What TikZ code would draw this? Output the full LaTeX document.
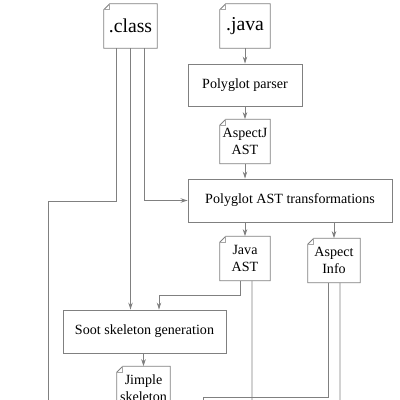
\documentclass[tikz,border=0pt]{standalone}
\usepackage{fontspec}
\setmainfont{Liberation Serif}
\usetikzlibrary{arrows.meta}

\tikzset{
  proc/.style={draw=gray, line width=0.6pt, minimum height=1.075cm, align=center, inner sep=2pt},
  doc/.style={minimum width=1.25cm, minimum height=1.1cm, align=center, inner sep=1pt,
    append after command={\pgfextra{
      \draw[gray, line width=0.6pt] (\tikzlastnode.south west) -- (\tikzlastnode.south east)
        -- (\tikzlastnode.north east) -- ([xshift=4.3pt]\tikzlastnode.north west)
        -- ([yshift=-4.3pt]\tikzlastnode.north west) -- cycle;
      \draw[gray!70, line width=0.4pt] ([xshift=4.3pt]\tikzlastnode.north west)
        -- ([shift={(4.3pt,-4.3pt)}]\tikzlastnode.north west)
        -- ([yshift=-4.3pt]\tikzlastnode.north west);
    }}},
  big/.style={font=\fontsize{14}{16}\selectfont},
  wire/.style={gray, line width=0.6pt},
  link/.style={wire, -{Stealth[length=5pt, width=3.2pt]}}
}

\begin{document}
\begin{tikzpicture}[x=0.025cm, y=-0.025cm]
    \useasboundingbox (0,0) rectangle (400,400);
    \clip (0,0) rectangle (400,400);

    % inputs and front end
    \node[doc, big, minimum width=1.325cm] (class) at (130.5,26) {.class};
    \node[doc, big] (java) at (245,26) {.java};
    \node[proc, minimum width=2.85cm, minimum height=1.05cm] (parser) at (245,85) {Polyglot parser};
    \node[doc] (ajast) at (245,141.5) {AspectJ\\AST};
    \node[proc, minimum width=5.1cm] (trans) at (290,200.5) {Polyglot AST transformations};
    \node[doc] (javaast) at (245,258.5) {Java\\AST};
    \node[doc, minimum width=1.3cm] (info) at (334,260.5) {Aspect\\Info};
    \node[proc, minimum width=4.075cm] (soot) at (144.5,331.5) {Soot skeleton generation};
    \node[doc, minimum width=1.325cm] (jimple) at (143.5,388.5) {Jimple\\skeleton};

    \coordinate (lft) at (48,201);
    \coordinate (lftend) at (48,420);
    \coordinate (jturn) at (159,295);
    \coordinate (jend) at (252,420);
    \coordinate (aturn) at (203,397);
    \coordinate (aend) at (203,420);
    \coordinate (iend) at (340,420);

    \draw[link] (java) -- (parser);
    \draw[link] (parser) -- (ajast);
    \draw[link] (ajast) -- (ajast.south |- trans.north);
    \draw[link] (javaast.north |- trans.south) -- (javaast);
    \draw[link] (info.north |- trans.south) -- (info);
    \draw[link] (jimple.north |- soot.south) -- (jimple);

    % .class feeds three stages
    \draw[link] (class.south) -- (class.south |- soot.north);
    \draw[link] ([xshift=0.35cm]class.south) |- (trans.west);
    \draw[wire] ([xshift=-0.35cm]class.south) |- (lft) -- (lftend);

    \draw[link] ([xshift=-0.125cm]javaast.south) |- (jturn) -- (jturn |- soot.north);
    \draw[wire] ([xshift=0.175cm]javaast.south) -- (jend);
    \draw[link] ([xshift=-0.15cm]info.south) |- (aturn) -- (aend);
    \draw[wire] ([xshift=0.15cm]info.south) -- (iend);
\end{tikzpicture}
\end{document}
